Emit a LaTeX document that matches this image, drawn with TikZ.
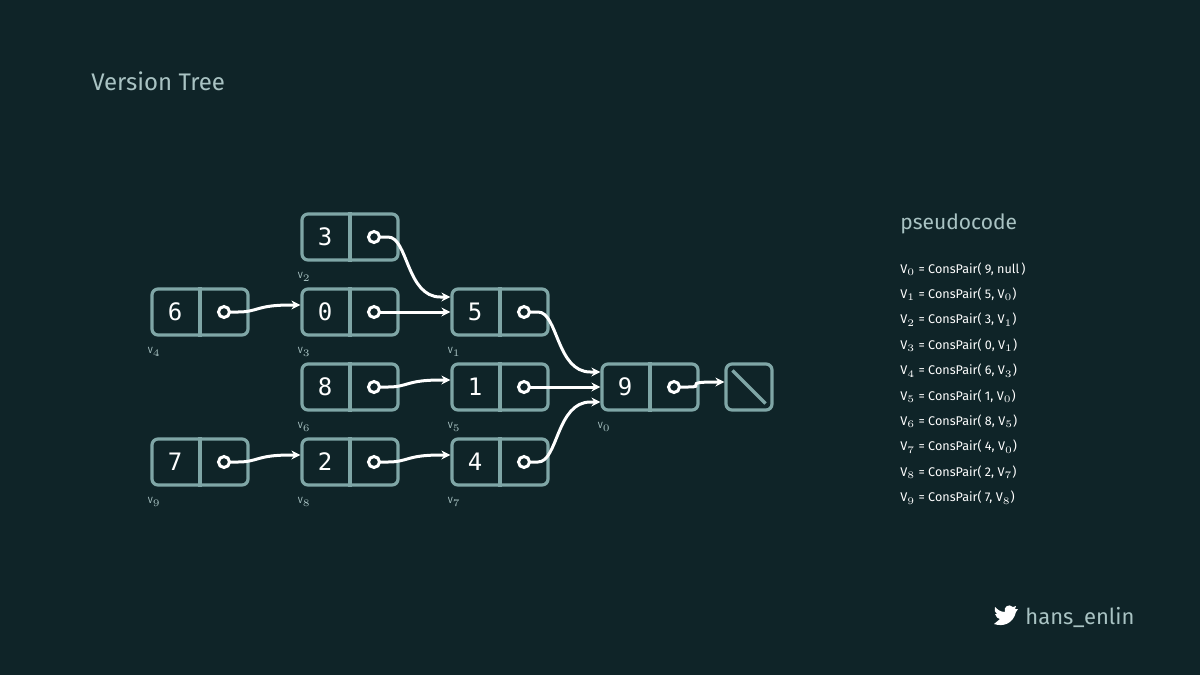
\documentclass[tikz,border=0pt]{standalone}
\usepackage{fontspec}
\setmainfont{Fira Sans}
\newfontfamily\digitfont{DejaVu Sans Mono}
\usetikzlibrary{calc,arrows.meta}
\definecolor{bg}{HTML}{0F2428}
\definecolor{boxc}{HTML}{7FA6A6}
\definecolor{txtc}{HTML}{A9C3C3}
\tikzset{
  cell/.style={draw=boxc,line width=1.6pt,rounded corners=3pt,minimum width=48pt,minimum height=23pt,inner sep=0pt},
  digit/.style={text=white,font=\digitfont\fontsize{12}{12}\selectfont},
  vlab/.style={text=txtc,font=\fontsize{4.5}{4.5}\selectfont,anchor=west,inner sep=0pt},
  ptr/.style={draw=white,line width=1.5pt,fill=bg},
  link/.style={draw=white,line width=1.5pt,-{Stealth[length=4.5pt,width=4.5pt]}},
  code/.style={text=white,font=\fontsize{6.3}{6.3}\selectfont,anchor=west,inner sep=0pt},
}
\begin{document}
\begin{tikzpicture}[x=0.5pt,y=-0.5pt]
\fill[bg] (0,0) rectangle (1200,675);
\useasboundingbox (0,0) rectangle (1200,675);
\node[text=txtc,font=\fontsize{12}{12}\selectfont,anchor=west,inner sep=0pt] (title) at (91,81) {Version Tree};
% list cells
\foreach \n/\x/\y/\val in {2/350/237/3, 4/200/312/6, 3/350/312/0, 1/500/312/5,
    6/350/387/8, 5/500/387/1, 0/650/387/9, 9/200/462/7, 8/350/462/2, 7/500/462/4}{
  \node[cell] (v\n) at (\x,\y) {};
  \draw[boxc,line width=1.6pt] (v\n.north) -- (v\n.south);
  \node[digit] (d\n) at ($(v\n.center)+(-25,0)$) {\val};
  \coordinate (p\n) at ($(v\n.center)+(24,0)$);
  \node[vlab] (l\n) at ($(v\n.south west)+(-3,15)$) {V$_{\n}$};
}
\node[cell,minimum width=23pt] (nil) at (749,387) {};
\draw[boxc,line width=1.6pt] ($(nil.north west)+(8,8)$) -- ($(nil.south east)+(-8,-8)$);
% in ports
\coordinate (i1a) at ($(v1.west)+(0,-15)$);
\coordinate (i0a) at ($(v0.west)+(0,-15)$);
\coordinate (i0c) at ($(v0.west)+(0,15)$);
\foreach \n in {3,5,7,8}{\coordinate (i\n) at ($(v\n.west)+(0,-7)$);}
\coordinate (inil) at ($(nil.west)+(0,-5)$);
\foreach \a/\b in {p2/i1a, p4/i3, p3/v1.west, p1/i0a, p6/i5,
    p5/v0.west, p7/i0c, p9/i8, p8/i7, p0/inil}{
  \draw[link] (\a) -- ++(14,0) .. controls +(20,0) and ($(\b)+(-44,0)$) .. ($(\b)+(-10,0)$) -- (\b);
}
\foreach \n in {0,...,9}{\filldraw[ptr] (p\n) circle (5.5);}
% pseudocode
\node[text=txtc,font=\fontsize{10.5}{10.5}\selectfont,anchor=west,inner sep=0pt] (pc) at (900,224) {pseudocode};
\foreach \n/\v/\r [count=\k from 0] in {0/9/null\,, 1/5/V$_0$, 2/3/V$_1$, 3/0/V$_1$, 4/6/V$_3$,
    5/1/V$_0$, 6/8/V$_5$, 7/4/V$_0$, 8/2/V$_7$, 9/7/V$_8$}{
  \node[code] (c\n) at (900,269+25.4*\k) {V$_{\n}$ = ConsPair( \v, \r)};
}
% bird
\fill[white] (994,624) .. controls (1003,627) and (1013,624) .. (1016,612)
  -- (1018,609) -- (1015,609) -- (1016,606) -- (1013,607)
  .. controls (1009,603) and (1003,607) .. (1005,612)
  .. controls (1000,612) and (997,609) .. (995,607)
  .. controls (994,610) and (995,613) .. (997,614)
  -- (995,614) .. controls (996,617) and (998,619) .. (1000,619)
  .. controls (998,621) and (996,622) .. (994,624) -- cycle;
\node[text=txtc,font=\fontsize{11}{11}\selectfont,anchor=west,inner sep=0pt] (hn) at (1025,617) {hans\_enlin};
\end{tikzpicture}
\end{document}
